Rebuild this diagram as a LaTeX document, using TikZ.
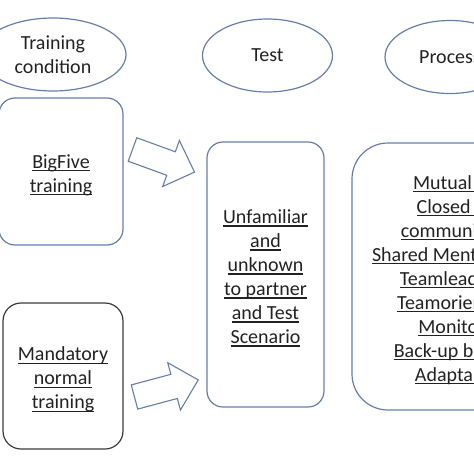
\documentclass[tikz,border=0pt]{standalone}
\usepackage{fontspec}
\setmainfont{Carlito}
\usetikzlibrary{shapes.geometric}
\definecolor{frameblue}{RGB}{104,124,172}
\definecolor{framegrey}{RGB}{58,58,58}
\definecolor{txtgrey}{RGB}{34,34,34}
% underlined line of text
\newcommand{\lin}[1]{\setbox0\hbox{#1}\rlap{\rule[-3pt]{\wd0}{1.1pt}}\box0}
% extra room above the first line
\newcommand{\pad}{\rule{0pt}{21pt}}
% block arrow: tail centre, angle
\newcommand{\blk}[2]{\draw[blockarrow,shift={#1},rotate=#2]
   (0,-12.5) -- (41,-12.5) -- (41,-24.5) -- (66,0) -- (41,24.5) -- (41,12.5) -- (0,12.5) -- cycle;}

\begin{document}
\begin{tikzpicture}[x=1pt,y=-1pt,
   every node/.style={font=\fontsize{20}{24}\selectfont, text=txtgrey, align=center},
   oval/.style={ellipse, draw=frameblue, line width=1.2pt, minimum width=130pt, minimum height=73pt, inner sep=0pt},
   card/.style={draw=frameblue, line width=1.2pt, rounded corners=16pt, inner sep=0pt},
   blockarrow/.style={draw=frameblue, line width=1.1pt, fill=white, line join=miter}]
   \useasboundingbox (0,0) rectangle (474,474);
   \clip (0,0) rectangle (474,474);
   % headings
   \node[oval, minimum width=146pt] (cond) at (53,54.5) {Training\\condition};
   \node[oval] (test) at (267.5,55.5) {Test};
   \node[oval] (proc) at (450,57) {Process};
   % boxes
   \node[card, minimum width=124pt, minimum height=147pt] (bigfive) at (61,171.5)
      {\pad\lin{BigFive}\\\lin{training}};
   \node[card, draw=framegrey, rounded corners=18pt, minimum width=120pt, minimum height=146pt]
      (mandatory) at (63,376) {\pad\lin{Mandatory}\\\lin{normal}\\\lin{training}};
   \node[card, minimum width=117pt, minimum height=265pt] (scenario) at (265.5,274.5)
      {\pad\lin{Unfamiliar}\\\lin{and}\\\lin{unknown}\\\lin{to partner}\\\lin{and Test}\\\lin{Scenario}};
   \node[card, rounded corners=36pt, minimum width=224pt, minimum height=267pt] (teamwork) at (464,276.5)
      {\pad\lin{Mutual trust}\\\lin{Closed loop}\\\lin{communication}\\\lin{Shared Mental Models}\\
       \lin{Teamleadership}\\\lin{Teamorientation}\\\lin{Monitoring}\\\lin{Back-up behavior}\\\lin{Adaptability}};
   % arrows
   \coordinate (bigfive arrow) at (132.5,149.5);
   \coordinate (mandatory arrow) at (134.5,397);
   \blk{(bigfive arrow)}{-20}
   \blk{(mandatory arrow)}{15}
\end{tikzpicture}
\end{document}
